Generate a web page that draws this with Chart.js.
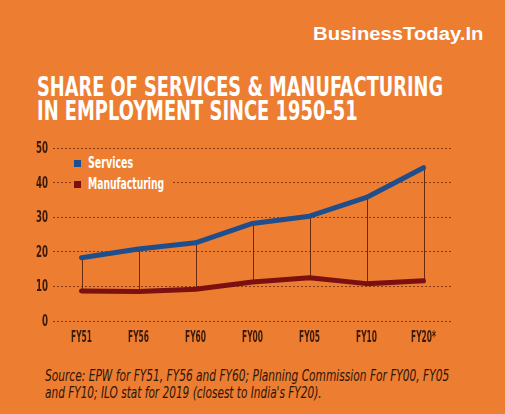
<!DOCTYPE html>
<html>
<head>
<meta charset="utf-8">
<script src="https://cdn.jsdelivr.net/npm/chart.js@4"></script>
<style>
  html, body { margin:0; padding:0; }
  body { width:505px; height:414px; background:#ED7D31; position:relative; overflow:hidden; font-family:"DejaVu Sans Condensed","DejaVu Sans",sans-serif; }
  .fit { position:absolute; white-space:nowrap; transform-origin:left top; }
  #brand { left:313px; top:24px; color:#fff; font-family:"Liberation Sans","Arial",sans-serif; font-weight:bold; font-size:18px; line-height:20px; }
  .title { left:37px; color:#fff; font-weight:bold; font-size:27px; line-height:26px; }
  .src { left:45px; color:#2b1608; font-style:italic; font-size:15px; line-height:17px; }
  #wrap { position:absolute; left:0; top:138px; width:505px; height:210px; }
  #legend { position:absolute; left:73px; top:153px; width:100px; height:40px; background:#ED7D31; }
  .lg { position:absolute; left:15px; color:#fff; font-weight:bold; font-size:15px; line-height:16px; }
  .sw { position:absolute; left:1px; width:7px; height:7px; }
</style>
</head>
<body>
<div id="brand" class="fit" data-w="170">BusinessToday.In</div>
<div class="fit title" style="top:74px" data-w="406">SHARE OF SERVICES &amp; MANUFACTURING</div>
<div class="fit title" style="top:98px" data-w="321">IN EMPLOYMENT SINCE 1950-51</div>
<div id="wrap"><canvas id="c"></canvas></div>
<div id="legend">
  <span class="sw" style="top:7px;background:#1F4E8C"></span>
  <div class="lg fit" style="top:2px" data-w="45">Services</div>
  <span class="sw" style="top:28px;background:#7B1010"></span>
  <div class="lg fit" style="top:23px" data-w="76">Manufacturing</div>
</div>
<div class="fit src" style="top:368px" data-w="404">Source: EPW for FY51, FY56 and FY60; Planning Commission For FY00, FY05</div>
<div class="fit src" style="top:385px" data-w="277">and FY10; ILO stat for 2019 (closest to India's FY20).</div>
<script>
document.querySelectorAll('.fit').forEach(el => {
  const w = parseFloat(el.dataset.w);
  el.style.transform = 'scaleX(' + (w / el.offsetWidth) + ')';
});

const categories = ["FY51","FY56","FY60","FY00","FY05","FY10","FY20*"];
const services = [18.3, 20.8, 22.6, 28.2, 30.3, 35.7, 44.3];
const manufacturing = [8.7, 8.5, 9.2, 11.3, 12.5, 10.8, 11.6];
const yTicks = [0, 10, 20, 30, 40, 50];

const FONT = '"DejaVu Sans Condensed","DejaVu Sans",sans-serif';

const dropLines = {
  id: 'dropLines',
  beforeDatasetsDraw(chart) {
    const ctx = chart.ctx;
    const x = chart.scales.x, y = chart.scales.y;
    ctx.save();
    ctx.strokeStyle = '#6B2A0E';
    ctx.lineWidth = 1;
    categories.forEach((c, i) => {
      const px = Math.round(x.getPixelForValue(i)) + 0.5;
      ctx.beginPath();
      ctx.moveTo(px, y.getPixelForValue(services[i]));
      ctx.lineTo(px, y.getPixelForValue(manufacturing[i]));
      ctx.stroke();
    });
    ctx.restore();
  }
};

// draws the axes' own tick labels in a horizontally condensed face
const condensedTicks = {
  id: 'condensedTicks',
  afterDraw(chart) {
    const ctx = chart.ctx;
    const xs = chart.scales.x, ys = chart.scales.y;
    ctx.save();
    ctx.fillStyle = '#3A1A08';
    ctx.textBaseline = 'alphabetic';
    ctx.font = 'bold 15px ' + FONT;
    const sx = 21 / ctx.measureText('FY51').width;
    ctx.textAlign = 'center';
    xs.ticks.forEach((t, i) => {
      const px = xs.getPixelForTick(i);
      ctx.save();
      ctx.translate(px, chart.chartArea.bottom + 21);
      ctx.scale(sx, 1);
      ctx.fillText(categories[i], 0, 0);
      ctx.restore();
    });
    ctx.font = 'bold 15px ' + FONT;
    const sy = 12 / ctx.measureText('50').width;
    ctx.textAlign = 'right';
    ys.ticks.forEach((t) => {
      const py = ys.getPixelForValue(t.value);
      ctx.save();
      ctx.translate(48, py + 5);
      ctx.scale(sy, 1);
      ctx.fillText(String(t.value), 0, 0);
      ctx.restore();
    });
    ctx.restore();
  }
};

new Chart(document.getElementById('c'), {
  type: 'line',
  data: {
    labels: categories,
    datasets: [
      { label: 'Services', data: services, borderColor: '#1F4E8C', backgroundColor: '#1F4E8C', borderWidth: 5, pointRadius: 0, borderCapStyle: 'round', borderJoinStyle: 'round', tension: 0 },
      { label: 'Manufacturing', data: manufacturing, borderColor: '#7B1010', backgroundColor: '#7B1010', borderWidth: 5, pointRadius: 0, borderCapStyle: 'round', borderJoinStyle: 'round', tension: 0 }
    ]
  },
  options: {
    responsive: true,
    maintainAspectRatio: false,
    animation: false,
    layout: { padding: { left: 53, right: 53, top: 10, bottom: 19 } },
    plugins: { legend: { display: false }, tooltip: { enabled: false } },
    scales: {
      x: {
        offset: true,
        grid: { display: false },
        border: { display: false },
        ticks: { display: false }
      },
      y: {
        min: 0, max: 50,
        afterBuildTicks(axis) { axis.ticks = yTicks.map(v => ({ value: v })); },
        grid: { color: '#8A3A12', lineWidth: 1, drawTicks: false, tickLength: 0 },
        border: { display: false, dash: [2, 2] },
        ticks: { display: false }
      }
    }
  },
  plugins: [dropLines, condensedTicks]
});
</script>
</body>
</html>
